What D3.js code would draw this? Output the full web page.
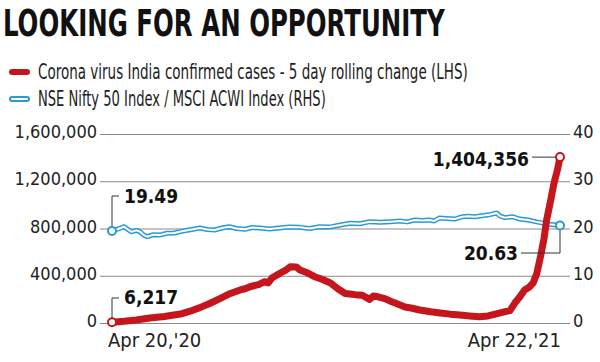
<!DOCTYPE html>
<html>
<head>
<meta charset="utf-8">
<script src="https://cdn.jsdelivr.net/npm/d3@7"></script>
<style>
  body { margin: 0; background: #fff; }
  svg text { font-family: "Liberation Sans Narrow", "DejaVu Sans Condensed", "Roboto", sans-serif; }
</style>
</head>
<body>
<svg width="600" height="362"></svg>
<script>
// covid 5 day rolling change (LHS)
const caseDates = ["2020-04-20","2020-04-30","2020-05-10","2020-05-21","2020-06-02","2020-06-15","2020-06-23",
  "2020-07-01","2020-07-09","2020-07-17","2020-07-26","2020-08-03","2020-08-07","2020-08-11","2020-08-18",
  "2020-08-23","2020-08-26","2020-08-29","2020-09-05","2020-09-09","2020-09-13","2020-09-18","2020-09-21",
  "2020-09-27","2020-10-03","2020-10-09","2020-10-16","2020-10-22","2020-10-28","2020-11-01","2020-11-05",
  "2020-11-11","2020-11-17","2020-11-20","2020-11-24","2020-11-30","2020-12-04","2020-12-08","2020-12-16",
  "2020-12-22","2020-12-28","2021-01-06","2021-01-14","2021-01-22","2021-01-30","2021-02-07","2021-02-15",
  "2021-02-22","2021-02-28","2021-03-04","2021-03-08","2021-03-12","2021-03-16","2021-03-20","2021-03-24",
  "2021-03-28","2021-03-31","2021-04-03","2021-04-06","2021-04-09","2021-04-11","2021-04-14","2021-04-17",
  "2021-04-20","2021-04-22"]
const caseValues = [6217, 14000, 25000, 42000, 55000, 76000, 100000,
  130000, 165000, 205000, 250000, 280000, 290000, 307000, 325000,
  350000, 340000, 380000, 423000, 445000, 477000, 475000, 449000,
  425000, 392000, 370000, 339000, 290000, 250000, 245000, 240000,
  235000, 200000, 228000, 222000, 205000, 185000, 169000, 135000,
  125000, 110000, 95000, 85000, 75000, 68000, 60000, 53000,
  60000, 75000, 85000, 96000, 105000, 169000, 220000, 280000,
  305000, 339000, 420000, 560000, 720000, 870000, 1020000, 1180000,
  1300000, 1404356]

// nifty / msci acwi ratio (RHS)
const ratioDates = ["2020-04-20","2020-04-25","2020-04-30","2020-05-03","2020-05-06","2020-05-10","2020-05-13",
  "2020-05-16","2020-05-19","2020-05-24","2020-05-29","2020-06-04","2020-06-10","2020-06-16","2020-06-22",
  "2020-07-01","2020-07-07","2020-07-13","2020-07-19","2020-07-25","2020-07-31","2020-08-07","2020-08-13",
  "2020-08-19","2020-08-27","2020-09-04","2020-09-12","2020-09-21","2020-09-29","2020-10-07","2020-10-15",
  "2020-10-24","2020-11-01","2020-11-09","2020-11-17","2020-11-26","2020-12-04","2020-12-12","2020-12-18",
  "2020-12-24","2020-12-30","2021-01-05","2021-01-09","2021-01-13","2021-01-19","2021-01-26","2021-02-01",
  "2021-02-06","2021-02-11","2021-02-17","2021-02-23","2021-03-01","2021-03-04","2021-03-08","2021-03-14",
  "2021-03-20","2021-03-27","2021-04-02","2021-04-07","2021-04-12","2021-04-17","2021-04-22"]
const ratioValues = [19.49, 19.9, 20.38, 19.8, 19.3, 19.6, 19.3,
  18.6, 18.27, 18.7, 18.6, 19.0, 19.05, 19.4, 19.68,
  20.1, 19.8, 19.68, 20.1, 20.38, 20.0, 19.83, 20.2,
  20.1, 19.9, 20.1, 20.3, 20.24, 20.0, 20.38, 20.3,
  20.74, 21.1, 21.0, 21.45, 21.3, 21.45, 21.6, 21.4,
  21.8, 21.7, 21.8, 21.6, 22.2, 22.1, 22.0, 22.5,
  22.6, 22.5, 22.7, 22.9, 23.3, 22.6, 22.3, 22.5,
  22.0, 21.8, 21.45, 21.2, 20.9, 20.8, 20.63]

const leftTicks = [0, 400000, 800000, 1200000, 1600000]
const rightTicks = [0, 10, 20, 30, 40]
const xLabels = ["Apr 20,'20", "Apr 22,'21"]

const parse = d3.timeParse("%Y-%m-%d")
const cases = caseDates.map((d, i) => ({date: parse(d), value: caseValues[i]}))
const ratio = ratioDates.map((d, i) => ({date: parse(d), value: ratioValues[i]}))

const red = "#c4161c"
const blue = "#2b9ad3"

const svg = d3.select("svg")

const x = d3.scaleTime()
    .domain([parse("2020-04-20"), parse("2021-04-22")])
    .range([112, 560])
const yL = d3.scaleLinear().domain([0, 1600000]).range([323, 134])
const yR = d3.scaleLinear().domain([0, 40]).range([323, 134])

//squeezes a text horizontally so it fits the width the reference uses
function fitText(sel, tx, ty, w) {
    const nat = sel.node().getComputedTextLength()
    const s = Math.min(1, w / nat)
    sel.attr("x", 0).attr("y", 0)
        .attr("transform", `translate(${tx},${ty}) scale(${s},1)`)
}

//title
const title = svg.append("text")
    .style("font-size", "38px").style("font-weight", "bold").attr("fill", "#111")
    .text("LOOKING FOR AN OPPORTUNITY")
fitText(title, 3, 36, 442)

//legend
const legend = [
    {label: "Corona virus India confirmed cases - 5 day rolling change (LHS)", color: red, y: 79, w: 430},
    {label: "NSE Nifty 50 Index / MSCI ACWI Index (RHS)", color: blue, y: 106, w: 288}
]
legend.forEach(function(l, i) {
    svg.append("line")
        .attr("x1", 12).attr("x2", 27)
        .attr("y1", l.y - 7).attr("y2", l.y - 7)
        .attr("stroke", l.color).attr("stroke-width", 6).attr("stroke-linecap", "round")
    if (i === 1) {
        svg.append("line")
            .attr("x1", 12).attr("x2", 27)
            .attr("y1", l.y - 7).attr("y2", l.y - 7)
            .attr("stroke", "#fff").attr("stroke-width", 2).attr("stroke-linecap", "round")
    }
    const t = svg.append("text")
        .style("font-size", "21px").attr("fill", "#222")
        .text(l.label)
    fitText(t, 38, l.y, l.w)
})

//gridlines + left labels
const gl = svg.append("g")
    .attr("transform", "translate(100,0)")
    .call(d3.axisLeft(yL).tickValues(leftTicks).tickSize(-470).tickPadding(3).tickFormat(d3.format(",")))
gl.attr("font-family", null)
gl.select(".domain").remove()
gl.selectAll(".tick line").attr("stroke", "#8a8a8a")
gl.selectAll(".tick text").attr("dy", "0.2em").style("font-size", "18px").attr("fill", "#222")

const gr = svg.append("g")
    .attr("transform", "translate(570,0)")
    .call(d3.axisRight(yR).tickValues(rightTicks).tickSize(0).tickPadding(3))
gr.attr("font-family", null)
gr.select(".domain").remove()
gr.selectAll(".tick text").attr("dy", "0.2em").style("font-size", "18px").attr("fill", "#222")

//x labels
svg.append("text").attr("x", 108).attr("y", 347)
    .style("font-size", "20px").attr("fill", "#222").text(xLabels[0])
svg.append("text").attr("x", 561).attr("y", 347).attr("text-anchor", "end")
    .style("font-size", "20px").attr("fill", "#222").text(xLabels[1])

//blue line (outlined)
const lineR = d3.line().x(d => x(d.date)).y(d => yR(d.value))
svg.append("path").datum(ratio).attr("d", lineR)
    .attr("fill", "none").attr("stroke", blue).attr("stroke-width", 5).attr("stroke-linejoin", "round")
svg.append("path").datum(ratio).attr("d", lineR)
    .attr("fill", "none").attr("stroke", "#fff").attr("stroke-width", 2).attr("stroke-linejoin", "round")

//red line
const lineL = d3.line().x(d => x(d.date)).y(d => yL(d.value))
svg.append("path").datum(cases).attr("d", lineL)
    .attr("fill", "none").attr("stroke", red).attr("stroke-width", 7)
    .attr("stroke-linejoin", "round").attr("stroke-linecap", "round")

//annotations
const first = cases[0], last = cases[cases.length - 1]
const rFirst = ratio[0], rLast = ratio[ratio.length - 1]
const ann = svg.append("g").attr("stroke", "#333").attr("stroke-width", 1).attr("fill", "none")
ann.append("polyline").attr("points", [[x(rFirst.date), yR(rFirst.value)], [x(rFirst.date), 196], [119, 196]].join(" "))
ann.append("polyline").attr("points", [[x(first.date), yL(first.value)], [x(first.date), 298], [119, 298]].join(" "))
ann.append("polyline").attr("points", [[532, yL(last.value)], [x(last.date), yL(last.value)]].join(" "))
ann.append("polyline").attr("points", [[521, 253], [x(rLast.date), 253], [x(rLast.date), yR(rLast.value)]].join(" "))

function label(tx, ty, anchor, t) {
    svg.append("text").attr("x", tx).attr("y", ty).attr("text-anchor", anchor)
        .style("font-size", "19px").style("font-weight", "bold").attr("fill", "#111").text(t)
}
label(124, 203, "start", d3.format(".2f")(rFirst.value))
label(124, 304, "start", d3.format(",")(first.value))
label(529, 166, "end", d3.format(",")(last.value))
label(518, 260, "end", d3.format(".2f")(rLast.value))

//end markers
svg.append("circle").attr("cx", x(first.date)).attr("cy", yL(first.value)).attr("r", 4)
    .attr("fill", "#fff").attr("stroke", red).attr("stroke-width", 2)
svg.append("circle").attr("cx", x(last.date)).attr("cy", yL(last.value)).attr("r", 4)
    .attr("fill", "#fff").attr("stroke", red).attr("stroke-width", 2)
svg.append("circle").attr("cx", x(rFirst.date)).attr("cy", yR(rFirst.value)).attr("r", 4)
    .attr("fill", "#fff").attr("stroke", blue).attr("stroke-width", 2)
svg.append("circle").attr("cx", x(rLast.date)).attr("cy", yR(rLast.value)).attr("r", 4)
    .attr("fill", "#fff").attr("stroke", blue).attr("stroke-width", 2)
</script>
</body>
</html>
